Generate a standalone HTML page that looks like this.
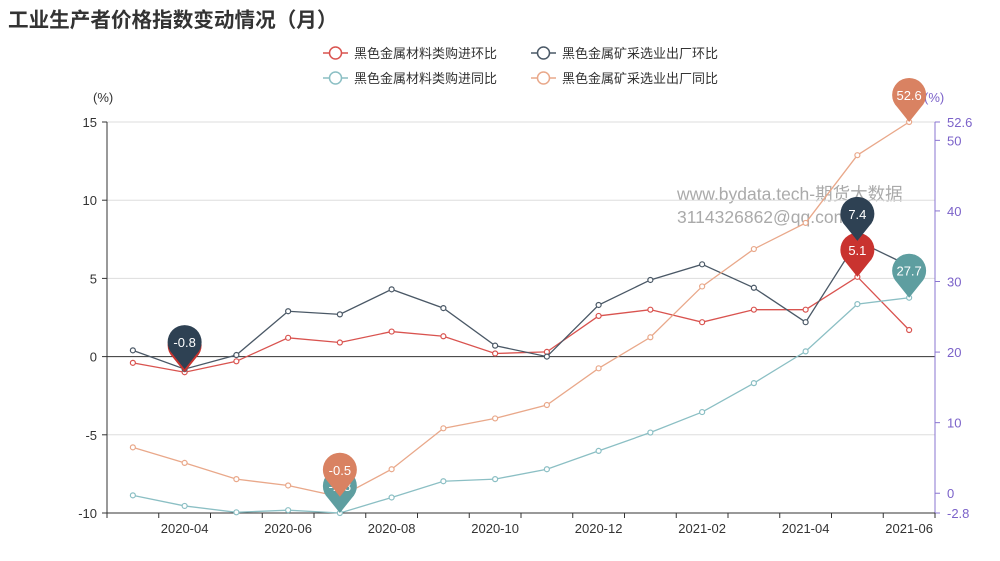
<!DOCTYPE html>
<html><head><meta charset="utf-8"><style>
body{margin:0;background:#fff;}
svg text{font-family:"Liberation Sans","Noto Sans CJK SC",sans-serif;}
</style></head><body>
<svg id="chart" width="1000" height="556" viewBox="0 0 1000 556">
<text x="8" y="27" font-size="20.6" font-weight="bold" fill="#333">工业生产者价格指数变动情况（月）</text>
<text x="677" y="200" font-size="17.5" fill="#aaa">www.bydata.tech-期货大数据</text>
<text x="677" y="223" font-size="17.5" fill="#aaa">3114326862@qq.com</text>
<g id="legend"></g>
<g id="axes"></g>
<g id="series"></g>
<g id="pins"></g>
</svg>
<script>
const categories=["2020-03","2020-04","2020-05","2020-06","2020-07","2020-08","2020-09","2020-10","2020-11","2020-12","2021-01","2021-02","2021-03","2021-04","2021-05","2021-06"];
const matMoM=[-0.4,-1.0,-0.3,1.2,0.9,1.6,1.3,0.2,0.3,2.6,3.0,2.2,3.0,3.0,5.1,1.7];
const mineMoM=[0.4,-0.8,0.1,2.9,2.7,4.3,3.1,0.7,0.0,3.3,4.9,5.9,4.4,2.2,7.4,5.8];
const matYoY=[-0.3,-1.8,-2.7,-2.4,-2.8,-0.6,1.7,2.0,3.4,6.0,8.6,11.5,15.6,20.1,26.8,27.7];
const mineYoY=[6.5,4.3,2.0,1.1,-0.5,3.4,9.2,10.6,12.5,17.7,22.1,29.3,34.6,38.3,47.9,52.6];
const leftTicks=[-10,-5,0,5,10,15];
const rightTicks=[-2.8,0,10,20,30,40,50,52.6];
const xLabels=["2020-04","2020-06","2020-08","2020-10","2020-12","2021-02","2021-04","2021-06"];
const names=["黑色金属材料类购进环比","黑色金属矿采选业出厂环比","黑色金属材料类购进同比","黑色金属矿采选业出厂同比"];
const colors=["#d9534f","#4a5866","#8bbfc4","#e9a88a"];

const NS="http://www.w3.org/2000/svg";
const X0=107,X1=935,Y0=122,Y1=513;
const bw=(X1-X0)/categories.length;
const xs=i=>X0+bw*(i+0.5);
const yL=v=>Y1-(v+10)/25*(Y1-Y0);
const yR=v=>Y1-(v+2.8)/55.4*(Y1-Y0);
function mk(tag,a,parent,txt){const e=document.createElementNS(NS,tag);for(const k in a)e.setAttribute(k,a[k]);if(txt!==undefined)e.textContent=txt;parent.appendChild(e);return e;}
const ax=document.getElementById('axes');
leftTicks.forEach(t=>{
  const g=mk('line',{x1:X0,x2:X1,y1:yL(t),y2:yL(t),stroke:t===0?'#333':'#ddd','stroke-width':1},ax);
  
  
  mk('line',{x1:X0-5,x2:X0,y1:yL(t),y2:yL(t),stroke:'#333'},ax);
  const l=mk('text',{x:X0-10,y:yL(t)+5,'text-anchor':'end','font-size':13,fill:'#333'},ax,String(t));
  
  
});
mk('line',{x1:X0,x2:X0,y1:Y0,y2:Y1,stroke:'#333'},ax);
mk('line',{x1:X1,x2:X1,y1:Y0,y2:Y1,stroke:'#8a74d0'},ax);
rightTicks.forEach(t=>{
  mk('line',{x1:X1,x2:X1+5,y1:yR(t),y2:yR(t),stroke:'#8a74d0'},ax);
  const l=mk('text',{x:X1+12,y:yR(t)+5,'font-size':13,fill:'#7b62c9'},ax,String(t));
  
  
});
mk('text',{x:93,y:102,'font-size':13,fill:'#333'},ax,'(%)');
mk('text',{x:924,y:102,'font-size':13,fill:'#7b62c9'},ax,'(%)');
categories.forEach((c,i)=>{
  const x=X0+bw*i;
  mk('line',{x1:x,x2:x,y1:Y1,y2:Y1+5,stroke:'#333'},ax);
  if(xLabels.includes(c)){
    const l=mk('text',{x:xs(i),y:Y1+20,'text-anchor':'middle','font-size':13,fill:'#333'},ax,c);
    
    
  }
});
mk('line',{x1:X1,x2:X1,y1:Y1,y2:Y1+5,stroke:'#333'},ax);
mk('line',{x1:X0,x2:X1,y1:Y1,y2:Y1,stroke:'#333'},ax);

const sg=document.getElementById('series');
const all=[[matMoM,yL],[mineMoM,yL],[matYoY,yR],[mineYoY,yR]];
const snames=['series-material-mom','series-mining-mom','series-material-yoy','series-mining-yoy'];
all.forEach(([d,fy],k)=>{
  const g=mk('g',{},sg);
  
  
  mk('polyline',{points:d.map((v,i)=>xs(i)+','+fy(v)).join(' '),fill:'none',stroke:colors[k],'stroke-width':1.3},g);
  d.forEach((v,i)=>{
    const p=mk('circle',{cx:xs(i),cy:fy(v),r:2.5,fill:'#fff',stroke:colors[k],'stroke-width':1.2},g);
    
    
  });
});

const pinColors=["#c9332f","#2e4153","#5e9ea0","#d98262"];
const pg=document.getElementById('pins');
function pin(x,y,col,label){
  const g=mk('g',{},pg);
  
  
  const cy=y-27,r=17;
  mk('path',{d:`M${x},${y} L${x-12},${cy+12} A${r},${r} 0 1 1 ${x+12},${cy+12} Z`,fill:col},g);
  mk('text',{x:x,y:cy+5,'text-anchor':'middle','font-size':13,fill:'#fff'},g,label);
}
all.forEach(([d,fy],k)=>{
  let mi=0,ma=0;d.forEach((v,i)=>{if(v<d[mi])mi=i;if(v>d[ma])ma=i;});
  pin(xs(mi),fy(d[mi]),pinColors[k],String(d[mi]));
  pin(xs(ma),fy(d[ma]),pinColors[k],String(d[ma]));
});

const lg=document.getElementById('legend');
const lpos=[[323,53],[531,53],[323,78],[531,78]];
names.forEach((n,k)=>{
  const g=mk('g',{},lg);
  
  
  const [x,y]=lpos[k];
  mk('line',{x1:x,x2:x+25,y1:y,y2:y,stroke:colors[k],'stroke-width':1.5},g);
  mk('circle',{cx:x+12.5,cy:y,r:6,fill:'#fff',stroke:colors[k],'stroke-width':1.5},g);
  mk('text',{x:x+31,y:y+5,'font-size':13,fill:'#333'},g,n);
});
</script>
</body></html>
